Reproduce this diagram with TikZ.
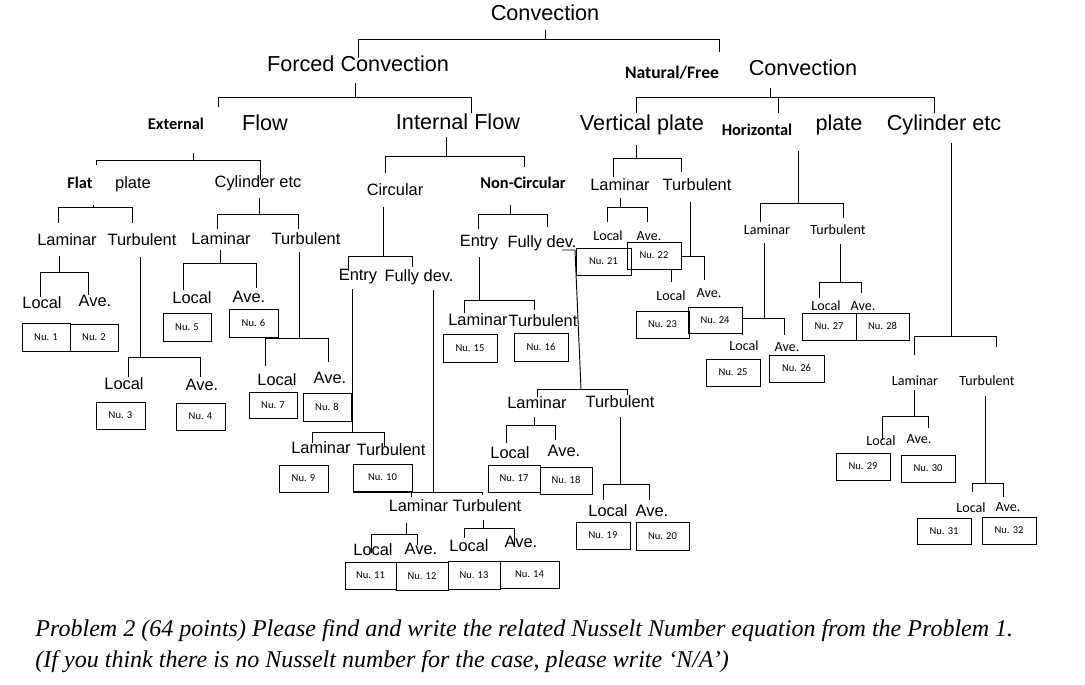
\documentclass[tikz,border=0pt]{standalone}
\usepackage{fontspec}
\setmainfont{Liberation Serif}
\newfontfamily\arialf{Liberation Sans}
\newfontfamily\calf{Carlito}
\begin{document}
\begin{tikzpicture}[x=0.3mm,y=-0.3mm,line width=0.8pt,
  every node/.append style={text height=1.5ex,text depth=.3ex},
  big/.style={inner sep=0,font=\arialf\fontsize{18.5}{20}\selectfont},
  med/.style={inner sep=0,font=\arialf\fontsize{14}{15}\selectfont},
  sm/.style={inner sep=0,font=\calf\fontsize{12}{13}\selectfont},
  bb/.style={inner sep=0,font=\calf\bfseries\fontsize{14}{15}\selectfont},
  nub/.style={draw,inner sep=0,font=\calf\fontsize{9}{10}\selectfont},
  captxt/.style={inner sep=0,anchor=west,font=\itshape\fontsize{20.5}{22}\selectfont}]
\useasboundingbox[fill=white] (0,0) rectangle (1085,684);
\newcommand\brk[7]{\draw (#1,#2)--(#1,#3); \draw (#4,#5)--(#4,#3)--(#6,#3)--(#6,#7);}
\newcommand\nubx[5]{\node[nub,minimum width={(#4-#2)*0.3mm},minimum height={(#5-#3)*0.3mm}] (n#1) at ({(#2+#4)/2},{(#3+#5)/2}) {Nu. #1};}
\brk{545}{30}{39}{358}{58}{719}{52}
\brk{355}{83}{97}{218}{107}{471}{113}
\brk{770}{88}{97}{636}{113}{934}{113}
\draw (778,97)--(778,113);
\brk{193}{153}{160}{96}{165}{260}{180}
\brk{446}{137}{156}{385}{173}{524}{167}
\brk{93}{205}{207}{58}{223}{132}{223}
\brk{259}{198}{214}{217}{229}{298}{229}
\brk{59}{256}{272}{40}{297}{88}{295}
\brk{140}{257}{357}{128}{377}{200}{377}
\brk{220}{250}{263}{183}{290}{256}{288}
\brk{299}{252}{338}{265}{366}{328}{362}
\brk{383}{207}{256}{348}{271}{412}{267}
\brk{352}{289}{432}{312}{443}{384}{447}
\brk{433}{290}{492}{353}{492}{482}{495}
\draw (411,492)--(411,497);
\brk{406}{523}{534}{371}{553}{417}{545}
\brk{483}{520}{528}{464}{538}{514}{545}
\brk{510}{205}{214}{478}{229}{547}{227}
\brk{479}{257}{300}{464}{313}{534}{310}
\draw (562,250)--(575,250)--(581,389);
\draw (537,397)--(537,389)--(627,389)--(627,395);
\brk{534}{417}{425}{506}{443}{555}{440}
\brk{620}{417}{484}{603}{500}{649}{500}
\brk{636}{145}{158}{613}{177}{681}{172}
\brk{620}{198}{207}{607}{222}{647}{222}
\draw (690,202)--(690,256); \draw (681,256)--(704,256)--(704,280);
\draw (671,269)--(671,282);
\brk{798}{151}{203}{760}{222}{843}{218}
\brk{764}{243}{318}{742}{335}{784}{335}
\brk{840}{244}{282}{819}{298}{861}{293}
\brk{951}{143}{336}{914}{355}{996}{347}
\brk{914}{390}{416}{882}{440}{928}{428}
\brk{985}{396}{483}{972}{492}{1003}{497}
\nubx{1}{22}{323}{70}{351}
\nubx{2}{70}{324}{118}{351}
\nubx{3}{96}{402}{145}{429}
\nubx{4}{176}{403}{225}{430}
\nubx{5}{163}{313}{211}{341}
\nubx{6}{229}{309}{278}{337}
\nubx{7}{249}{392}{297}{418}
\nubx{8}{303}{393}{351}{421}
\nubx{9}{279}{465}{328}{492}
\nubx{10}{353}{464}{412}{491}
\nubx{11}{345}{562}{396}{589}
\nubx{12}{396}{562}{448}{590}
\nubx{13}{448}{561}{500}{589}
\nubx{14}{500}{561}{559}{588}
\nubx{15}{443}{334}{497}{362}
\nubx{16}{514}{333}{568}{361}
\nubx{17}{488}{465}{540}{492}
\nubx{18}{540}{467}{592}{494}
\nubx{19}{576}{522}{630}{549}
\nubx{20}{636}{522}{689}{550}
\nubx{21}{576}{248}{631}{275}
\nubx{22}{627}{242}{681}{269}
\nubx{23}{636}{311}{689}{338}
\nubx{24}{688}{307}{742}{333}
\nubx{25}{706}{359}{760}{386}
\nubx{26}{769}{355}{824}{382}
\nubx{27}{802}{313}{856}{340}
\nubx{28}{856}{313}{909}{340}
\nubx{29}{836}{453}{890}{480}
\nubx{30}{901}{455}{955}{482}
\nubx{31}{917}{518}{971}{544}
\nubx{32}{982}{517}{1036}{544}
\node[big] (t1) at (545,17) {Convection};
\node[big] (t2) at (358,68) {Forced Convection};
\node[big] (t3) at (803,72) {Convection};
\node[big] (t4) at (265,127) {Flow};
\node[big] (t5) at (458,126) {Internal Flow};
\node[big] (t6) at (642,127) {Vertical plate};
\node[big] (t7) at (839,127) {plate};
\node[big] (t8) at (944,127) {Cylinder etc};
\node[bb,font=\calf\bfseries\fontsize{15}{16}\selectfont] (b1) at (672,75) {Natural/Free};
\node[bb] (b2) at (176,126) {External};
\node[bb] (b3) at (757,132) {Horizontal};
\node[bb] (b4) at (80,185) {Flat};
\node[bb] (b5) at (523,185) {Non-Circular};
\node[med] (m1) at (133,185) {plate};
\node[med] (m2) at (258,184) {Cylinder etc};
\node[med] (m3) at (395,192) {Circular};
\node[med] (m4) at (620,187) {Laminar};
\node[med] (m5) at (697,187) {Turbulent};
\node[med] (m6) at (67,242) {Laminar};
\node[med] (m7) at (142,242) {Turbulent};
\node[med] (m8) at (221,241) {Laminar};
\node[med] (m9) at (306,241) {Turbulent};
\node[med] (m10) at (479,243) {Entry};
\node[med] (m11) at (542,244) {Fully dev.};
\node[med] (m12) at (358,277) {Entry};
\node[med] (m13) at (419,278) {Fully dev.};
\node[med] (m14) at (42,305) {Local};
\node[med] (m15) at (95,303) {Ave.};
\node[med] (m16) at (192,300) {Local};
\node[med] (m17) at (249,299) {Ave.};
\node[med] (m18) at (478,322) {Laminar};
\node[med] (m19) at (543,323) {Turbulent};
\node[med] (m20) at (124,386) {Local};
\node[med] (m21) at (202,387) {Ave.};
\node[med] (m22) at (277,382) {Local};
\node[med] (m23) at (330,380) {Ave.};
\node[med] (m24) at (537,405) {Laminar};
\node[med] (m25) at (620,404) {Turbulent};
\node[med] (m26) at (321,450) {Laminar};
\node[med] (m27) at (391,452) {Turbulent};
\node[med] (m28) at (510,455) {Local};
\node[med] (m29) at (564,453) {Ave.};
\node[med] (m30) at (455,508) {Laminar Turbulent};
\node[med] (m31) at (608,513) {Local};
\node[med] (m32) at (652,513) {Ave.};
\node[med] (m33) at (373,552) {Local};
\node[med] (m34) at (421,551) {Ave.};
\node[med] (m35) at (469,548) {Local};
\node[med] (m36) at (521,544) {Ave.};
\node[sm] (s1) at (608,237) {Local};
\node[sm] (s2) at (649,237) {Ave.};
\node[sm] (s3) at (767,231) {Laminar};
\node[sm] (s4) at (838,231) {Turbulent};
\node[sm] (s5) at (671,297) {Local};
\node[sm] (s6) at (709,294) {Ave.};
\node[sm] (s7) at (744,347) {Local};
\node[sm] (s8) at (787,348) {Ave.};
\node[sm] (s9) at (826,307) {Local};
\node[sm] (s10) at (863,307) {Ave.};
\node[sm] (s11) at (915,382) {Laminar};
\node[sm] (s12) at (987,382) {Turbulent};
\node[sm] (s13) at (881,442) {Local};
\node[sm] (s14) at (919,440) {Ave.};
\node[sm] (s15) at (971,509) {Local};
\node[sm] (s16) at (1008,508) {Ave.};
\node[captxt] (c1) at (35,633) {Problem 2 (64 points) Please find and write the related Nusselt Number equation from the Problem 1.};
\node[captxt] (c2) at (35,664) {(If you think there is no Nusselt number for the case, please write ‘N/A’)};
\end{tikzpicture}
\end{document}
